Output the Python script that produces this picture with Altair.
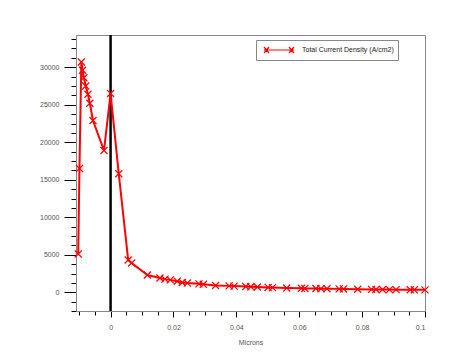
import altair as alt
import pandas as pd

# Data
microns = [-0.0103, -0.0099, -0.0093, -0.0089, -0.0085, -0.0079, -0.0072, -0.0066,
           -0.0056, -0.0021, 0.0, 0.0026, 0.0056, 0.0067, 0.0117, 0.0157, 0.0173,
           0.0190, 0.0212, 0.0228, 0.0244, 0.0281, 0.0295, 0.0334, 0.0377, 0.0393,
           0.0430, 0.0446, 0.0467, 0.0501, 0.0515, 0.0560, 0.0607, 0.0618, 0.0653,
           0.0669, 0.0688, 0.0727, 0.0741, 0.0786, 0.0830, 0.0844, 0.0865, 0.0887,
           0.0908, 0.0953, 0.0966, 0.1000]
current_density = [5100, 16500, 30700, 29600, 28600, 27500, 26400, 25200,
                   22900, 18900, 26500, 15800, 4300, 3900, 2300, 1900, 1750,
                   1650, 1470, 1300, 1230, 1120, 1060, 900, 850, 820,
                   760, 730, 700, 640, 620, 560, 530, 510, 490,
                   480, 470, 450, 440, 400, 380, 370, 360, 355,
                   350, 335, 330, 320]
series_name = "Total Current Density (A/cm2)"

x_ticks = [round(-0.01 + 0.005 * i, 3) for i in range(23)]
y_ticks = [-2500 + 1250 * i for i in range(30)]

df = pd.DataFrame({"x": microns, "y": current_density, "s": series_name})

FONT = "Liberation Sans"
RED = "#ff0000"
XPATH = "M-1,-1L1,1M-1,1L1,-1"
LEGEND_PATH = ("M-1,0L5,0M-1,-0.6L0,0.6M-1,0.6L0,-0.6"
               "M4,-0.6L5,0.6M4,0.6L5,-0.6")

x_scale = alt.Scale(domain=[-0.011, 0.1], nice=False, zero=False)
y_scale = alt.Scale(domain=[-2500, 34300], nice=False, zero=False)

x_major = "abs(datum.value*50 - round(datum.value*50)) < 1e-6"
y_major = "datum.value % 5000 === 0"

x_axis = alt.Axis(
    values=x_ticks,
    tickCount=200,
    title="Microns",
    grid=False,
    labelOverlap=False,
    labelExpr=f"({x_major}) ? toString(round(datum.value*100)/100) : ''",
    tickSize={"condition": {"test": x_major, "value": 6}, "value": 4},
    tickColor="#000000",
    domainColor="#888888",
    labelFont=FONT, labelFontSize=7, labelColor="#555555",
    labelPadding=6,
    titleFont=FONT, titleFontSize=7, titleFontWeight="normal", titleColor="#555555",
    titlePadding=8,
)
y_axis = alt.Axis(
    values=y_ticks,
    tickCount=200,
    title=None,
    grid=False,
    labelOverlap=False,
    labelExpr=f"({y_major}) && datum.value >= 0 ? format(datum.value, 'd') : ''",
    tickSize={"condition": {"test": y_major, "value": 12}, "value": 5},
    tickColor="#000000",
    domainColor="#888888",
    labelFont=FONT, labelFontSize=7, labelColor="#555555",
    labelPadding=5,
)

base = alt.Chart(df)

line = base.mark_line(strokeWidth=2).encode(
    x=alt.X("x:Q", scale=x_scale, axis=x_axis),
    y=alt.Y("y:Q", scale=y_scale, axis=y_axis),
    color=alt.Color(
        "s:N",
        scale=alt.Scale(range=[RED]),
        legend=alt.Legend(
            title=None,
            orient="none",
            legendX=180,
            legendY=5,
            symbolType=LEGEND_PATH,
            symbolSize=100,
            symbolStrokeWidth=1.2,
            symbolFillColor="transparent",
            symbolOffset=3,
            labelFont=FONT,
            labelFontSize=7,
            labelColor="#222222",
            labelOffset=27,
            padding=4,
            strokeColor="#888888",
            fillColor="#ffffff",
            labelLimit=300,
        ),
    ),
    order="x:Q",
)

points = base.mark_point(shape=XPATH, filled=False, size=50, strokeWidth=1.2,
                         color=RED, opacity=1).encode(
    x=alt.X("x:Q", scale=x_scale, axis=x_axis),
    y=alt.Y("y:Q", scale=y_scale, axis=y_axis),
)

zero_line = alt.Chart(pd.DataFrame({"x0": [0.0]})).mark_rule(
    color="#000000", strokeWidth=2.5
).encode(x=alt.X("x0:Q", scale=x_scale, axis=x_axis))

chart = alt.layer(zero_line, line, points).properties(
    width=349,
    height=276,
    autosize=alt.AutoSizeParams(type="none"),
    padding={"left": 68, "top": 27, "right": 30, "bottom": 36},
).configure_view(stroke="#888888", strokeWidth=1)

chart.save("out.html", embed_options={"renderer": "svg", "actions": False})
